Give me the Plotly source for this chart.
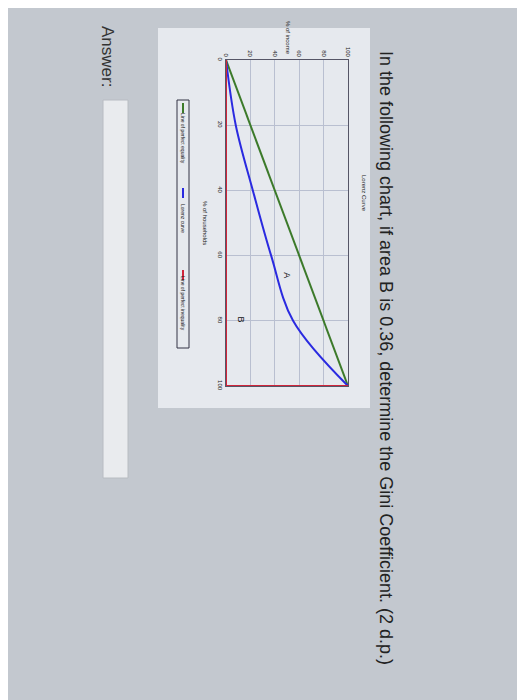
import plotly.graph_objects as go

households = [0, 20, 40, 60, 80, 100]
lorenz_income = [0, 8, 22, 37, 55, 100]
equality_x = [0, 100]
equality_y = [0, 100]
inequality_hh = [0, 100, 100]
inequality_inc = [0, 0, 100]
ticks = [0, 20, 40, 60, 80, 100]

W, H = 525, 700
L, R, T, B = 218, 340, 52, 378

fig = go.Figure()
fig.add_trace(go.Scatter(x=equality_y, y=equality_x, mode="lines",
                         line=dict(color="#3c7a2a", width=2), name="Line of perfect equality"))
fig.add_trace(go.Scatter(x=lorenz_income, y=households, mode="lines", line_shape="spline",
                         line=dict(color="#2a2ae0", width=2), name="Lorenz curve"))
fig.add_trace(go.Scatter(x=inequality_inc, y=inequality_hh, mode="lines",
                         line=dict(color="#d0253a", width=2), name="Line of perfect inequality"))

fig.update_layout(
    width=W, height=H, showlegend=False,
    margin=dict(l=L, r=W - R, t=T, b=H - B, autoexpand=False),
    paper_bgcolor="#c3c8cf", plot_bgcolor="#f4f6fa",
    font=dict(family="Liberation Sans", color="#222"),
)
fig.update_xaxes(range=[0, 100], tickvals=ticks, side="top", tickangle=90, automargin=False,
                 tickfont=dict(size=6), showgrid=True, gridcolor="#b9bfd0",
                 showline=True, linecolor="#556", mirror=True, zeroline=False)
fig.update_yaxes(range=[100, 0], tickvals=ticks, tickangle=90, automargin=False,
                 tickfont=dict(size=6), showgrid=True, gridcolor="#b9bfd0",
                 showline=True, linecolor="#556", mirror=True, zeroline=False)

fig.add_shape(type="rect", xref="paper", yref="paper", layer="below",
              x0=(150 - L) / (R - L), x1=(362 - L) / (R - L),
              y0=(B - 400) / (B - T), y1=(B - 20) / (B - T),
              fillcolor="#e6e9ee", line=dict(width=0))

def px(xp, yp):
    return dict(xref="paper", yref="paper", x=(xp - L) / (R - L), y=(B - yp) / (B - T),
                xanchor="center", yanchor="middle")

anns = [
    ("% of income", 280, 30, 6, "#222"),
    ("% of households", 197, 215, 6, "#222"),
    ("Lorenz Curve", 356, 185, 6, "#222"),
    ("In the following chart, if area B is 0.36, determine the Gini Coefficient. (2 d.p.)", 378, 350, 18, "#222"),
    ("Answer:", 100, 48, 17, "#333"),
    ("Line of perfect equality", 175, 130, 5, "#222"),
    ("Lorenz curve", 175, 210, 5, "#222"),
    ("Line of perfect inequality", 175, 295, 5, "#222"),
]
for t, xp, yp, s, c in anns:
    fig.add_annotation(text=t, showarrow=False, textangle=90, font=dict(size=s, color=c), **px(xp, yp))

fig.add_annotation(text="A", x=50, y=66, showarrow=False, font=dict(size=9, color="#111"), textangle=90)
fig.add_annotation(text="B", x=12, y=79.5, showarrow=False, font=dict(size=9, color="#111"), textangle=90)

def rect(x0, x1, y0, y1, **kw):
    fig.add_shape(type="rect", xref="paper", yref="paper",
                  x0=(x0 - L) / (R - L), x1=(x1 - L) / (R - L),
                  y0=(B - y1) / (B - T), y1=(B - y0) / (B - T), **kw)

rect(169, 181, 92, 340, line=dict(color="#334", width=1), fillcolor="rgba(0,0,0,0)")
for y0, col in [(95, "#3c7a2a"), (180, "#2a2ae0"), (262, "#d0253a")]:
    fig.add_shape(type="line", xref="paper", yref="paper",
                  x0=(175 - L) / (R - L), x1=(175 - L) / (R - L),
                  y0=(B - y0) / (B - T), y1=(B - y0 - 10) / (B - T), line=dict(color=col, width=2))
rect(95, 120, 92, 470, line=dict(color="#b8bcc2", width=1), fillcolor="#e9ebee")

fig.write_html("out.html")
